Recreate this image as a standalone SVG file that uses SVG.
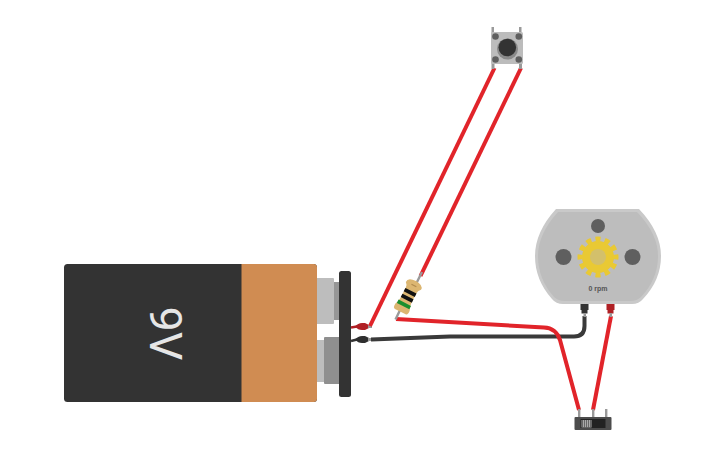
<svg xmlns="http://www.w3.org/2000/svg" width="725" height="453" viewBox="0 0 725 453">
<style>
.wr{fill:none;stroke:#e1242a;stroke-width:4;stroke-linecap:butt;stroke-linejoin:round}
.wk{fill:none;stroke:#3a3a3a;stroke-width:4;stroke-linejoin:round}
.lead{fill:none;stroke:#9a9a9a;stroke-width:2.4}
.hole{fill:#5f5f5f}
</style>
<rect width="725" height="453" fill="#fff"/>
<g id="battery">
<rect x="316" y="278" width="18" height="46" rx="1" fill="#bdbdbd"/>
<rect x="334" y="282" width="6" height="38" fill="#969696"/>
<rect x="316" y="340" width="10" height="42" fill="#bdbdbd"/>
<rect x="324" y="337" width="16" height="47" rx="1" fill="#8f8f8f"/>
<rect x="64" y="264" width="253" height="138" rx="3.500" fill="#333"/>
<path d="M241.500 264H313.500a3.500 3.500 0 0 1 3.500 3.500V398.500a3.500 3.500 0 0 1 -3.500 3.500H241.500Z" fill="#d08c52"/>
<text transform="translate(150 333.500) rotate(90)" text-anchor="middle" font-family="Roboto, Open Sans, sans-serif" font-size="45" font-weight="400" fill="#e6e6e6">9V</text>
<rect x="339" y="271" width="12" height="126" rx="2.500" fill="#333"/>
<path d="M351 327.500L357 326.500" stroke="#b02025" stroke-width="2.500" fill="none"/>
<path d="M351 341L357 339.500" stroke="#333" stroke-width="2.500" fill="none"/>
<path d="M355 326.500Q358 323 362 323H365L369 325V328L365 330H362Q358 330 355 326.500Z" fill="#b02025"/>
<rect x="368" y="325" width="4" height="3" fill="#999"/>
<path d="M355 339.500Q358 336 362 336H365L369 338V341L365 343H362Q358 343 355 339.500Z" fill="#2f2f2f"/>
<rect x="368" y="338" width="4" height="3" fill="#999"/>
</g>
<g id="connectors">
<path class="wk" d="M371 339.500L450 336.500H574Q584.500 336.500 584.500 326V316"/>
<path class="wr" d="M370 326L494.500 68"/>
<path class="wr" d="M420.500 276L521 68"/>
<path class="wr" d="M396 319L544 327.500Q556 328 560 340L579 410"/>
<path class="wr" d="M611 316L593 410"/>
</g>
<g id="button">
<rect x="491.500" y="27" width="2.500" height="8" fill="#9a9a9a"/>
<rect x="519" y="27" width="2.500" height="8" fill="#9a9a9a"/>
<rect x="491.500" y="62" width="3" height="7" fill="#9a9a9a"/>
<rect x="519" y="62" width="3" height="7" fill="#9a9a9a"/>
<rect x="491" y="32" width="32" height="32" rx="1.500" fill="#bcbcbc"/>
<circle cx="495.500" cy="36.500" r="3.300" class="hole"/>
<circle cx="518.800" cy="36.500" r="3.300" class="hole"/>
<circle cx="495.500" cy="59.500" r="3.300" class="hole"/>
<circle cx="518.800" cy="59.500" r="3.300" class="hole"/>
<circle cx="507.500" cy="49" r="10.500" fill="#8a8a8a"/>
<circle cx="507.300" cy="47.500" r="8.800" fill="#333"/>
</g>
<g id="resistor">
<path class="lead" d="M395.500 319.500L402 306M416 284L422 272"/>
<g transform="translate(408 296.500) rotate(27)">
<path d="M-6 17Q-8.500 17 -8 12Q-6 8 -6 4V-7Q-6 -10 -8.500 -12Q-9 -17 0 -17.500Q9 -17 8.500 -12Q6 -10 6 -7V4Q6 8 8 12Q8.500 17 6 17Z" fill="#dcb671"/>
<rect x="-6.200" y="-6.500" width="12.400" height="3.800" fill="#111"/>
<rect x="-6.200" y="0" width="12.400" height="3.800" fill="#111"/>
<rect x="-7" y="7" width="14" height="3.800" fill="#1a8f2e"/>
<path d="M-2.500 -12.500H3" stroke="#b08a4e" stroke-width="1"/>
</g>
</g>
<g id="motor">
<rect x="580.500" y="304" width="8" height="6" fill="#333"/>
<rect x="606.500" y="304" width="8" height="6" fill="#b02025"/>
<rect x="581.500" y="310" width="6" height="3.500" fill="#333"/>
<rect x="607.500" y="310" width="6" height="3.500" fill="#b02025"/>
<rect x="583.500" y="313" width="2.500" height="4" fill="#999"/>
<rect x="609.500" y="313" width="2.500" height="4" fill="#999"/>
<path d="M556 209H639Q661 232 661 256Q661 280 643 299Q639 304 632 304H563Q556 304 552 299Q535 280 535 256Q535 232 556 209Z" fill="#c9c9c9"/>
<path d="M558 212H637Q658 234 658 256Q658 279 641 297Q637 301 630 301H565Q558 301 554 297Q538 279 538 256Q538 234 558 212Z" fill="#bdbdbd"/>
<circle cx="598" cy="226" r="7" class="hole"/>
<circle cx="563.500" cy="257" r="8" class="hole"/>
<circle cx="632.500" cy="257" r="8" class="hole"/>
<circle cx="598" cy="257" r="16" fill="#e9c934"/>
<circle cx="598" cy="257" r="17.500" fill="none" stroke="#e9c934" stroke-width="6" pathLength="24" stroke-dasharray="1.100 .9" stroke-dashoffset=".55"/>
<circle cx="598" cy="257" r="8" fill="#d3c06b"/>
<text x="598" y="291" text-anchor="middle" font-family="Liberation Sans, Arial, sans-serif" font-size="7" font-weight="700" fill="#555">0 rpm</text>
</g>
<g id="switch">
<rect x="578" y="409" width="2.400" height="9" fill="#9a9a9a"/>
<rect x="592" y="409" width="2.400" height="9" fill="#9a9a9a"/>
<rect x="605" y="409" width="2.400" height="9" fill="#9a9a9a"/>
<rect x="574.500" y="417" width="37" height="13" rx="1" fill="#4c4c4c"/>
<rect x="580.500" y="419" width="25" height="9" fill="#222"/>
<rect x="581.500" y="420" width="10" height="7.500" fill="#aaa"/>
<path d="M582.500 420v7.500M584.500 420v7.500M586.500 420v7.500M588.500 420v7.500M590.500 420v7.500" stroke="#555" stroke-width=".8"/>
</g>
</svg>
